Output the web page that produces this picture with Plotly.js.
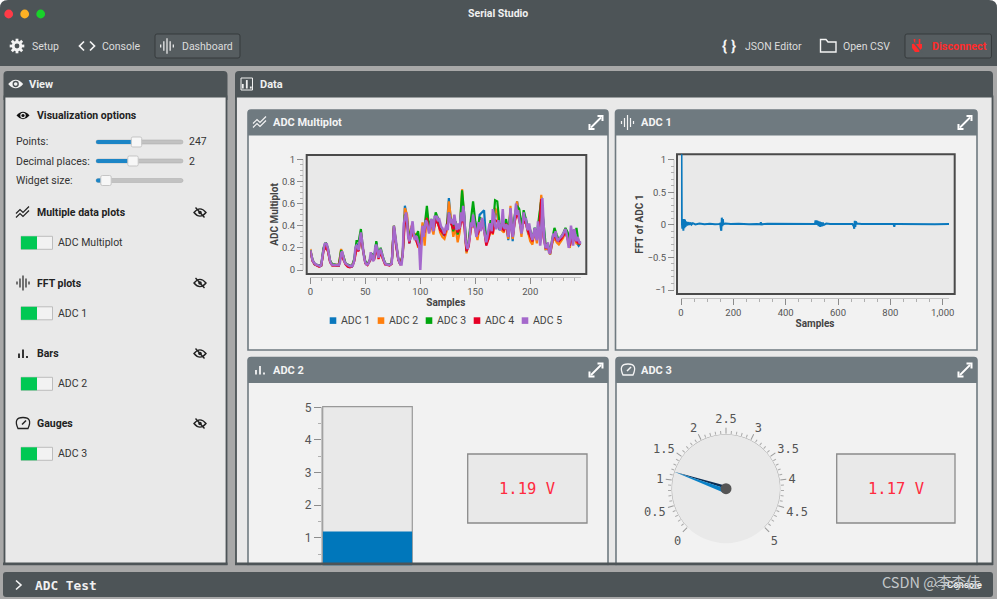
<!DOCTYPE html>
<html><head><meta charset="utf-8">
<script src="https://cdn.plot.ly/plotly-3.0.1.min.js"></script>
<style>html,body{margin:0;padding:0;overflow:hidden;background:#fff}#chart{width:997px;height:599px}</style>
</head><body><div id="chart"></div>
<script>
const seriesNames = ['ADC 1','ADC 2','ADC 3','ADC 4','ADC 5'];
const seriesColors = ['#0a78bd','#ff7f0e','#00a60e','#e60026','#a569cc'];
// ADC 1 to 4 were read every second sample, ADC 5 (drawn on top) every sample
const adc1 = [.18,.09,.05,.04,.035,.04,.19,.22,.18,.08,
.045,.045,.04,.04,.16,.11,.06,.04,.03,.03,
.09,.24,.2,.33,.17,.07,.05,.08,.13,.1,
.25,.11,.17,.11,.06,.05,.045,.06,.39,.23,
.1,.05,.14,.58,.47,.24,.36,.32,.3,.24,
.2,.38,.36,.5,.36,.44,.38,.47,.42,.38,
.32,.31,.38,.65,.42,.4,.42,.36,.38,.6,
.48,.18,.25,.4,.42,.37,.33,.5,.52,.54,
.24,.3,.4,.38,.52,.5,.36,.4,.36,.44,
.27,.55,.26,.48,.62,.5,.33,.5,.46,.33,
.33,.25,.38,.28,.34,.66,.4,.18,.23,.14,
.25,.3,.28,.26,.28,.31,.36,.3,.25,.33,
.36,.25,.22,.25];
const adc2 = [.19,.09,.055,.04,.035,.045,.18,.24,.17,.08,
.045,.045,.045,.05,.19,.12,.06,.045,.03,.04,
.09,.2,.19,.34,.17,.07,.05,.08,.14,.1,
.22,.11,.18,.1,.06,.05,.045,.06,.4,.24,
.1,.05,.14,.56,.5,.26,.4,.3,.33,.2,
.24,.43,.22,.52,.34,.4,.32,.46,.45,.34,
.3,.28,.35,.62,.46,.3,.38,.25,.35,.73,
.45,.15,.25,.38,.47,.36,.27,.4,.44,.38,
.25,.28,.38,.32,.56,.52,.38,.36,.34,.42,
.28,.58,.28,.46,.62,.48,.3,.5,.43,.34,
.26,.23,.36,.24,.42,.68,.36,.19,.2,.14,
.24,.3,.25,.23,.26,.29,.36,.27,.2,.35,
.3,.24,.24,.24];
const adc3 = [.18,.09,.055,.045,.04,.05,.2,.25,.2,.085,
.05,.05,.045,.05,.18,.13,.06,.05,.04,.04,
.1,.26,.26,.37,.18,.08,.05,.09,.15,.11,
.26,.12,.2,.12,.06,.05,.05,.06,.4,.24,
.1,.05,.14,.5,.44,.27,.38,.33,.3,.35,
.2,.36,.4,.58,.38,.46,.36,.52,.47,.38,
.34,.33,.4,.52,.45,.35,.44,.32,.4,.72,
.5,.17,.26,.45,.62,.44,.36,.47,.46,.4,
.3,.33,.45,.38,.63,.62,.42,.4,.38,.46,
.33,.52,.34,.5,.58,.55,.38,.54,.47,.38,
.36,.27,.38,.32,.48,.63,.44,.22,.24,.16,
.28,.38,.32,.27,.3,.33,.38,.34,.27,.36,
.3,.38,.24,.25];
const adc4 = [.17,.08,.05,.04,.03,.04,.17,.21,.17,.07,
.04,.04,.04,.04,.14,.1,.05,.03,.025,.03,
.08,.19,.17,.31,.16,.06,.045,.08,.12,.09,
.2,.1,.16,.1,.05,.045,.04,.055,.38,.22,
.09,.045,.13,.44,.42,.24,.36,.3,.27,.22,
.2,.36,.35,.47,.36,.42,.36,.45,.42,.36,
.34,.32,.38,.5,.42,.37,.4,.34,.38,.48,
.4,.17,.21,.38,.42,.38,.32,.38,.42,.36,
.22,.28,.36,.33,.45,.44,.38,.38,.36,.42,
.3,.45,.3,.44,.52,.45,.36,.44,.42,.35,
.3,.26,.36,.28,.38,.64,.3,.2,.2,.15,
.26,.32,.27,.26,.28,.31,.34,.28,.22,.3,
.28,.26,.24,.24];
const adc5 = [.18,.13,.09,.07,.055,.05,.045,.045,.04,.035,
.05,.12,.2,.235,.24,.235,.19,.12,.08,.055,
.045,.045,.045,.045,.045,.045,.045,.07,.15,.17,
.12,.08,.06,.05,.045,.04,.035,.04,.035,.05,
.09,.2,.22,.21,.18,.27,.34,.27,.17,.11,
.07,.05,.05,.06,.09,.16,.13,.08,.1,.2,
.23,.16,.11,.17,.18,.15,.11,.08,.06,.05,
.05,.045,.045,.05,.06,.2,.4,.33,.24,.17,
.1,.07,.05,.05,.14,.42,.49,.52,.44,.3,
.27,.28,.38,.44,.33,.27,.31,.29,.25,.22,
0,.28,.4,.3,.38,.45,.43,.36,.33,.38,
.46,.42,.35,.49,.47,.49,.44,.47,.42,.39,
.38,.35,.33,.38,.41,.36,.52,.48,.42,.46,
.41,.5,.43,.36,.42,.37,.39,.52,.44,.58,
.5,.28,.22,.19,.24,.3,.43,.39,.5,.42,
.38,.3,.35,.43,.41,.35,.47,.44,.36,.28,
.25,.3,.38,.42,.4,.35,.55,.5,.4,.37,
.4,.45,.38,.36,.42,.55,.39,.37,.41,.4,
.3,.34,.56,.44,.3,.36,.5,.6,.5,.54,
.46,.4,.33,.38,.52,.45,.47,.38,.36,.42,
.34,.3,.27,.32,.38,.3,.27,.44,.36,.22,
.3,.65,.42,.24,.2,.21,.25,.16,.15,.21,
.26,.33,.3,.35,.29,.26,.28,.29,.3,.31,
.33,.36,.37,.33,.28,.2,.27,.4,.33,.22,
.37,.3,.26,.3,.27,.24,.26];
const fftSamples = [0,2,3,5,7,9,11,13,15,17,20,24,28,32,36,40,45,55,70,90,110,130,145,150,152,154,156,158,160,162,170,190,220,260,290,303,305,307,330,380,430,480,505,512,514,516,518,520,522,526,530,532,534,538,542,546,555,570,600,640,655,660,662,664,666,668,672,690,730,780,812,815,817,830,870,920,970,1024];
const fftValues  = [1.08,1.08,.06,-.06,.09,-.09,.09,-.05,.08,-.03,.05,-.01,.04,.0,.035,.005,.025,.005,.02,.008,.016,.008,.014,.02,-.05,-.09,.11,-.02,.09,.01,.02,.012,.016,.008,.014,.01,.04,.008,.015,.012,.014,.012,.014,.012,.07,.02,.07,.0,.06,-.02,.05,-.03,.04,-.02,.035,.0,.02,.012,.014,.012,.014,-.02,-.06,.06,-.03,.05,.02,.014,.012,.016,.012,-.03,.012,.014,.01,.014,.01,.012];
const barLabel = 'ADC 2'; const barValue = 1.19; const barUnit = 'V';
const gaugeLabel = 'ADC 3'; const gaugeValue = 1.17; const gaugeUnit = 'V';
const gaugeMajor = [0,.5,1,1.5,2,2.5,3,3.5,4,4.5,5];
const gaugeMajorText = ['0','0.5','1','1.5','2','2.5','3','3.5','4','4.5','5'];
const gaugeMinor = [.1,.2,.3,.4,.6,.7,.8,.9,1.1,1.2,1.3,1.4,1.6,1.7,1.8,1.9,2.1,2.2,2.3,2.4,2.6,2.7,2.8,2.9,3.1,3.2,3.3,3.4,3.6,3.7,3.8,3.9,4.1,4.2,4.3,4.4,4.6,4.7,4.8,4.9];
const visibilityGroups = [['Multiple data plots',212.5,'ADC Multiplot','multi'],['FFT plots',283,'ADC 1','wave'],['Bars',353.5,'ADC 2','bars'],['Gauges',423.5,'ADC 3','gauge']];
const sliders = [['Points:',142,136.5,'247'],['Decimal places:',161,133,'2'],['Widget size:',180.5,106,'']];

const W=997,H=599, fx=x=>x/W, fy=y=>1-y/H;
const UI='Roboto', MONO='"DejaVu Sans Mono"';
const shapes=[], annotations=[];
function px(d){let isX=true;return d.replace(/[A-Za-z]|-?\d*\.?\d+/g,t=>{if(/[A-Za-z]/.test(t)){isX=true;return t;}const r=isX?(+t/W):(1-(+t)/H);isX=!isX;return r.toFixed(5);});}
function path(d,o={}){shapes.push({type:'path',xref:'paper',yref:'paper',path:px(d),fillcolor:o.fill||'rgba(0,0,0,0)',line:{color:o.line||'rgba(0,0,0,0)',width:o.w===undefined?(o.line?1:0):o.w},layer:o.layer||'below'});}
function rect(x0,y0,x1,y1,o={}){shapes.push({type:'rect',xref:'paper',yref:'paper',x0:fx(x0),x1:fx(x1),y0:fy(y1),y1:fy(y0),fillcolor:o.fill||'rgba(0,0,0,0)',line:{color:o.line||'rgba(0,0,0,0)',width:o.w===undefined?(o.line?1:0):o.w},layer:o.layer||'below'});}
function circ(x,y,r,o={}){shapes.push({type:'circle',xref:'paper',yref:'paper',x0:fx(x-r),x1:fx(x+r),y0:fy(y+r),y1:fy(y-r),fillcolor:o.fill||'rgba(0,0,0,0)',line:{color:o.line||'rgba(0,0,0,0)',width:o.w===undefined?(o.line?1:0):o.w},layer:o.layer||'below'});}
function rr(x0,y0,x1,y1,r,o={}){path(`M ${x0+r} ${y0} L ${x1-r} ${y0} Q ${x1} ${y0} ${x1} ${y0+r} L ${x1} ${y1-r} Q ${x1} ${y1} ${x1-r} ${y1} L ${x0+r} ${y1} Q ${x0} ${y1} ${x0} ${y1-r} L ${x0} ${y0+r} Q ${x0} ${y0} ${x0+r} ${y0} Z`,o);}
function rrTop(x0,y0,x1,y1,r,o={}){path(`M ${x0+r} ${y0} L ${x1-r} ${y0} Q ${x1} ${y0} ${x1} ${y0+r} L ${x1} ${y1} L ${x0} ${y1} L ${x0} ${y0+r} Q ${x0} ${y0} ${x0+r} ${y0} Z`,o);}
function T(text,x,y,o={}){const a=o.anchor||'left';annotations.push({xref:'paper',yref:'paper',x:fx(a==='left'?x-1:x),y:fy(y),text:o.bold?`<b>${text}</b>`:text,showarrow:false,xanchor:a,yanchor:'middle',borderpad:0,font:{family:o.family||UI,size:o.size||10.5,color:o.color||'#3c3c3c'}});}

// icons
function gear(x,y,c){for(let a=0;a<8;a++){const t=a*Math.PI/4,cs=Math.cos(t),sn=Math.sin(t);path(`M ${x+4*cs} ${y+4*sn} L ${x+7.3*cs} ${y+7.3*sn}`,{line:c,w:2.8});}circ(x,y,5.2,{fill:c});circ(x,y,2.4,{fill:'#4d5457'});}
function chevrons(x,y,c){path(`M ${x-3} ${y-4.5} L ${x-7.5} ${y} L ${x-3} ${y+4.5}`,{line:c,w:1.7});path(`M ${x+3} ${y-4.5} L ${x+7.5} ${y} L ${x+3} ${y+4.5}`,{line:c,w:1.7});}
function wave(x,y,c,s=1){[[-6,1.5],[-3,4.5],[0,7.5],[3,4.5],[6,1.5]].forEach(([d,h])=>path(`M ${x+d*s} ${y-h*s} L ${x+d*s} ${y+h*s}`,{line:c,w:1.2}));}
function eye(x,y,c,bg,w=7.5){path(`M ${x-w} ${y} Q ${x} ${y-w*1.15} ${x+w} ${y} Q ${x} ${y+w*1.15} ${x-w} ${y} Z`,{fill:c});circ(x,y,w*.42,{fill:bg});circ(x,y,w*.24,{fill:c});}
function hiddenEye(x,y){const w=6;path(`M ${x-w} ${y} Q ${x} ${y-w*1.2} ${x+w} ${y} Q ${x} ${y+w*1.2} ${x-w} ${y} Z`,{line:'#222',w:1.4});circ(x,y,1.8,{fill:'#222'});path(`M ${x-4.5} ${y-5} L ${x+4.5} ${y+5}`,{line:'#222',w:1.4});}
function multi(x,y,c){path(`M ${x-7} ${y+1} L ${x-3} ${y-3} L ${x} ${y} L ${x+6} ${y-6}`,{line:c,w:1.2});path(`M ${x-7} ${y+5} L ${x-3} ${y+1} L ${x} ${y+4} L ${x+6} ${y-2}`,{line:c,w:1.2});}
function bars(x,y,c){[[-4,3.5],[0,6.5],[4,1.5]].forEach(([d,h])=>path(`M ${x+d} ${y+4.5} L ${x+d} ${y+4.5-h*1.3}`,{line:c,w:1.8}));}
function gaugeIcon(x,y,c){path(`M ${x-5} ${y+5} Q ${x-10} ${y-6} ${x} ${y-6} Q ${x+10} ${y-6} ${x+5} ${y+5} Z`,{line:c,w:1.3});path(`M ${x-1} ${y+1} L ${x+3} ${y-3}`,{line:c,w:1.5});}
function expand(x,y){const c='#ffffff';path(`M ${x-5} ${y+5} L ${x+5} ${y-5}`,{line:c,w:1.8});path(`M ${x+1.5} ${y-6.5} L ${x+6.5} ${y-6.5} L ${x+6.5} ${y-1.5}`,{line:c,w:2});path(`M ${x-1.5} ${y+6.5} L ${x-6.5} ${y+6.5} L ${x-6.5} ${y+1.5}`,{line:c,w:2});}
const iconFor={multi,wave,bars,gauge:gaugeIcon};

// window and toolbar
rect(0,0,W,10,{fill:'#ffffff'});
rrTop(0,0,W,66,8,{fill:'#4d5457'});
[[8.7,'#ff3b47'],[24.7,'#fdb124'],[40.7,'#19d22a']].forEach(([x,c])=>circ(x,14,4.4,{fill:c}));
T('Serial Studio',498,13.5,{anchor:'center',bold:true,color:'#f0f0f0',size:10.5});
rr(155,34,240,58,2,{fill:'#565d60',line:'#363b3d',w:1});
rr(905,34,991.5,58,2,{fill:'#565d60',line:'#363b3d',w:1});
gear(17,46,'#f4f4f4'); T('Setup',32,46,{color:'#dcdcdc'});
chevrons(87,46,'#f4f4f4'); T('Console',102,46,{color:'#dcdcdc'});
wave(167,46,'#f4f4f4',1.05); T('Dashboard',182,46,{color:'#dcdcdc'});
T('{ }',722,45.5,{bold:true,color:'#f4f4f4',size:15.5}); T('JSON Editor',744.5,46,{color:'#dcdcdc'});
path('M 820.5 39.5 L 826 39.5 L 828 42 L 836 42 L 836 52 L 820.5 52 Z',{line:'#f4f4f4',w:1.4}); T('Open CSV',843,46,{color:'#dcdcdc'});
path('M 912 44 L 922 44 L 922 48 L 919 52 L 915 52 L 912 48 Z',{fill:'#ff2b2b'});
path('M 914.5 44 L 914.5 39 M 919.5 44 L 919.5 39',{line:'#ff2b2b',w:1.6});
path('M 911 39 L 923 54',{line:'#565d60',w:1.4});
T('Disconnect',931.5,46,{bold:true,color:'#ff2b2b',size:10.8});

// view panel
rrTop(3.5,71,227.5,100,4,{fill:'#4d5457'});
rect(4.5,96.5,226.5,564,{fill:'#e9e9e9',line:'#4d5457',w:1.8});
eye(15.7,84,'#f4f4f4','#4d5457'); T('View',29,84,{bold:true,color:'#f0f0f0',size:11});
eye(23,115.5,'#111','#e9e9e9',6.5); T('Visualization options',37,115.5,{bold:true,color:'#222',size:10.5});
sliders.forEach(([lab,y,hx,val])=>{
  T(lab,16,y,{size:10.5,color:'#333'});
  rr(96,y-2,183,y+2,2,{fill:'#c2c2c2',line:'#aaa',w:.5});
  rr(96,y-2,hx,y+2,2,{fill:'#1c85c6'});
  rr(hx-5.2,y-5,hx+5.2,y+5,1.5,{fill:'#f7f7f7',line:'#c5c5c5',w:1});
  if(val) T(val,189,y,{size:10.5,color:'#333'});
});
visibilityGroups.forEach(([name,y,item,ic])=>{
  iconFor[ic](23,y,'#222');
  T(name,37,y,{bold:true,color:'#222',size:10.5});
  hiddenEye(200,y);
  const ty=y+30.3;
  rect(21,ty-6.5,52.5,ty+6.5,{fill:'#f2f2f2',line:'#bdbdbd',w:1});
  rect(21,ty-6.5,37,ty+6.5,{fill:'#00c853'});
  T(item,58,ty,{size:10.5,color:'#333'});
});

// data panel
rrTop(235,71,993,100,4,{fill:'#4d5457'});
rect(236,96.5,992.5,564,{fill:'#e9e9e9',line:'#4d5457',w:1.8});
rect(241,78,252.5,90,{line:'#f0f0f0',w:1});
bars(246.8,84,'#f0f0f0');
T('Data',259.5,84,{bold:true,color:'#f0f0f0',size:11});

// cards
const cards=[[248,110,608,350,'ADC Multiplot','multi'],[615.5,110,977,350,'ADC 1','wave'],[248,357.5,608,566,barLabel,'bars'],[616,357.5,977,566,gaugeLabel,'gauge']];
cards.forEach(([x0,y0,x1,y1,t,ic])=>{
  rrTop(x0,y0,x1,y1,3,{fill:'#f2f2f2',line:'#6f7a80',w:1.6});
  rrTop(x0,y0,x1,y0+25.5,3,{fill:'#6f7a80'});
  iconFor[ic](x0+12,y0+12.5,'#f4f4f4');
  T(t,x0+25,y0+12.5,{bold:true,color:'#f4f4f4',size:11});
  expand(x1-12,y0+12.5);
});

// plot frames
rect(306.7,155,586.3,274,{fill:'#e9e9e9',line:'#4a4a4a',w:2});
rect(677,154.3,954.7,294,{fill:'#e9e9e9',line:'#4a4a4a',w:2});
rect(322.7,406.7,412.3,575,{fill:'#e9e9e9',line:'#999999',w:1.2});
// y axis lines span only the value scale, the subplots themselves fill the frames
path('M 303 159.3 L 303 270',{line:'#c4c4c4',w:1});
path('M 674 159.7 L 674 290',{line:'#c4c4c4',w:1});

// legend of the multiplot
seriesNames.forEach((n,i)=>{
  const cx=333+48*i;
  rect(cx-3.3,317.3,cx+3.3,323.9,{fill:seriesColors[i]});
  T(n,cx+8.2,320.7,{size:10.5,color:'#444'});
});

// value displays
[[467.7,587,barValue,barUnit],[836.7,955,gaugeValue,gaugeUnit]].forEach(([x0,x1,v,u])=>{
  rect(x0,454,x1,523,{fill:'#e9e9e9',line:'#8a8a8a',w:1.3});
  T(v.toFixed(2)+' '+u,(x0+x1)/2,489,{anchor:'center',family:MONO,size:15.5,color:'#ff2b3f'});
});

// bottom strip drawn above the clipped widgets
rect(0,565.3,W,H,{fill:'#a8a8a8',layer:'above'});
rect(3,562.5,227.5,565.3,{fill:'#4d5457',layer:'above'});
rect(235,562.5,993,565.3,{fill:'#4d5457',layer:'above'});
rr(3,572,993,597,3,{fill:'#4d5457',layer:'above'});
path('M 16 580.5 L 21 585 L 16 589.5',{line:'#f4f4f4',w:1.6,layer:'above'});
T('ADC Test',35,585,{bold:true,family:MONO,color:'#f0f0f0',size:12.8});
path('M 938 581.5 L 935 584.5 L 938 587.5 M 942 581.5 L 945 584.5 L 942 587.5',{line:'#f0f0f0',w:1,layer:'above'});
T('Console',947,584.5,{bold:true,color:'#f0f0f0',size:9.5});
T('CSDN @李李佳',882,581,{family:'"Noto Sans CJK SC"',color:'#c4c8ca',size:14.5});

const tickFont={family:UI,size:9.5,color:'#555'};
const titleFont={family:UI,size:10,color:'#444'};
function axis(o){return Object.assign({showgrid:false,zeroline:false,showline:true,linecolor:'#c4c4c4',linewidth:1,ticks:'outside',tickcolor:'#8c8c8c',tickwidth:1,ticklen:6,tickfont:tickFont,fixedrange:true,anchor:'free'},o);}
const minor=(d,l)=>({dtick:d,ticks:'outside',ticklen:l,tickcolor:'#b0b0b0',tickwidth:1,showgrid:false});

const everySecond = adc1.map((_,i)=>i*2);
const everySample = adc5.map((_,i)=>i);
const data=[];
[adc1,adc2,adc3,adc4].forEach((ys,i)=>data.push({type:'scatter',mode:'lines',name:seriesNames[i],x:everySecond,y:ys,xaxis:'x',yaxis:'y',line:{color:seriesColors[i],width:2.2},hoverinfo:'skip',showlegend:false}));
data.push({type:'scatter',mode:'lines',name:seriesNames[4],x:everySample,y:adc5,xaxis:'x',yaxis:'y',line:{color:seriesColors[4],width:2.5},hoverinfo:'skip',showlegend:false});
data.push({type:'scatter',mode:'lines',name:'FFT of ADC 1',x:fftSamples,y:fftValues,xaxis:'x2',yaxis:'y2',line:{color:'#0a78bd',width:2},hoverinfo:'skip',showlegend:false});
data.push({type:'bar',name:barLabel,x:[barLabel],y:[barValue],width:[1],xaxis:'x3',yaxis:'y3',marker:{color:'#0077bb',line:{width:0}},hoverinfo:'skip',showlegend:false});

// gauge: value 0..5 sweeps 270 degrees
const deg=v=>v*54;
const needle=deg(gaugeValue);
const arcVals=gaugeMajor.concat(gaugeMinor).sort((a,b)=>a-b);
data.push({type:'scatterpolar',subplot:'polar',mode:'lines',r:arcVals.map(()=>1),theta:arcVals.map(deg),line:{color:'#aaaaaa',width:1},cliponaxis:false,hoverinfo:'skip',showlegend:false});
data.push({type:'scatterpolar',subplot:'polar2',mode:'markers',r:[0],theta:[0],marker:{size:1,color:'rgba(0,0,0,0)'},hoverinfo:'skip',showlegend:false});
data.push({type:'scatterpolar',subplot:'polar3',mode:'lines',r:[1,.05,0,1],theta:[needle,needle+90,needle,needle],fill:'toself',fillcolor:'#0a2e55',line:{width:0,color:'#0a2e55'},hoverinfo:'skip',showlegend:false});
data.push({type:'scatterpolar',subplot:'polar3',mode:'lines',r:[1,.085,0,1],theta:[needle,needle-90,needle,needle],fill:'toself',fillcolor:'#0a82c8',line:{width:0,color:'#0a82c8'},hoverinfo:'skip',showlegend:false});
data.push({type:'scatterpolar',subplot:'polar3',mode:'markers',r:[0],theta:[0],marker:{size:11,color:'#555555'},hoverinfo:'skip',showlegend:false});

const cx=726,cy=488.7,R=54.5;
const radial={range:[0,1],visible:false,showgrid:false};
const dom={x:[fx(cx-R),fx(cx+R)],y:[fy(cy+R),fy(cy-R)]};
const layout={width:W,height:H,margin:{l:0,r:0,t:0,b:0},paper_bgcolor:'#a8a8a8',plot_bgcolor:'rgba(0,0,0,0)',showlegend:false,hovermode:false,shapes,annotations,
 xaxis:axis({domain:[fx(310.3),fx(581.3)],range:[0,246.4],position:fy(276.7),dtick:50,minor:minor(10,3.5),title:{text:'<b>Samples</b>',font:titleFont,standoff:2}}),
 yaxis:axis({domain:[fy(274),fy(155)],range:[-.0361,1.0389],showline:false,position:fx(303),dtick:.2,minor:minor(.05,3.5),title:{text:'<b>ADC Multiplot</b>',font:titleFont,standoff:0}}),
 xaxis2:axis({domain:[fx(681),fx(949)],range:[0,1024],position:fy(297.7),dtick:200,tickformat:',d',minor:minor(50,3.5),title:{text:'<b>Samples</b>',font:titleFont,standoff:2}}),
 yaxis2:axis({domain:[fy(294),fy(154.3)],range:[-1.0614,1.0829],showline:false,position:fx(674),dtick:.5,minor:minor(.1,3.5),title:{text:'<b>FFT of ADC 1</b>',font:titleFont,standoff:0}}),
 xaxis3:{domain:[fx(322.7),fx(412.3)],visible:false,type:'category',range:[-.5,.5],anchor:'y3',fixedrange:true},
 yaxis3:axis({domain:[fy(570.3),fy(407.3)],range:[0,5],position:fx(321),dtick:1,minor:minor(.5,3.5),tickfont:{family:UI,size:12,color:'#555'},ticklen:7}),
 polar:{domain:dom,bgcolor:'#e9e9e9',radialaxis:radial,angularaxis:{visible:false,showgrid:false,rotation:225,direction:'clockwise',thetaunit:'degrees'}},
 polar2:{domain:dom,bgcolor:'rgba(0,0,0,0)',radialaxis:radial,angularaxis:{rotation:225,direction:'clockwise',thetaunit:'degrees',showgrid:false,showline:false,ticks:'outside',ticklen:6,tickcolor:'#999999',tickwidth:1,tickmode:'array',tickvals:gaugeMajor.map(deg),ticktext:gaugeMajorText,tickfont:{family:MONO,size:12,color:'#555'}}},
 polar3:{domain:dom,bgcolor:'rgba(0,0,0,0)',radialaxis:radial,angularaxis:{rotation:225,direction:'clockwise',thetaunit:'degrees',showgrid:false,showline:false,ticks:'outside',ticklen:3,tickcolor:'#aaaaaa',tickwidth:1,tickmode:'array',tickvals:gaugeMinor.map(deg),showticklabels:false}}
};
Plotly.newPlot('chart',data,layout,{staticPlot:true,displayModeBar:false});
</script></body></html>
